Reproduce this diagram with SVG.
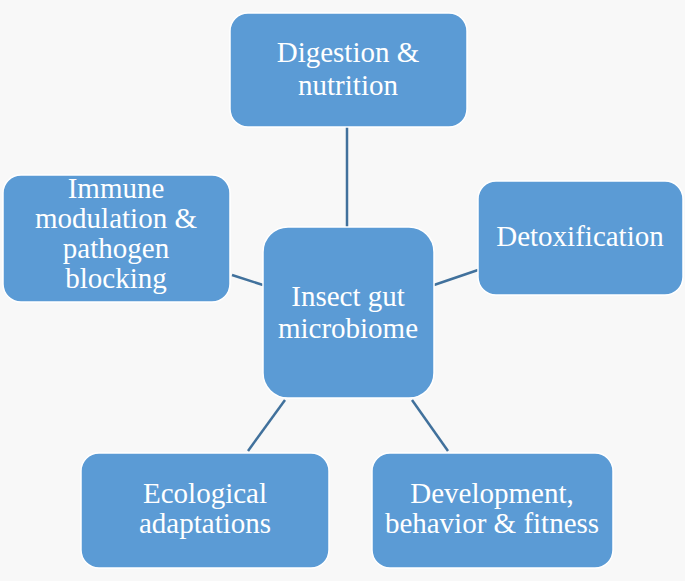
<svg xmlns="http://www.w3.org/2000/svg" width="685" height="581" viewBox="0 0 685 581">
<style>
.box{fill:#5b9bd5;stroke:#ffffff;stroke-width:1.5}
.t{font-family:'Liberation Serif','DejaVu Serif',serif;font-size:29px;fill:#ffffff;text-anchor:middle}
.c{stroke:#41719c;stroke-width:2.5;fill:none}
</style>
<rect x="0" y="0" width="685" height="581" fill="#f8f8f8"/>
<g id="connectors">
<line class="c" x1="347" y1="127" x2="347" y2="227"/>
<line class="c" x1="232" y1="275" x2="263" y2="285"/>
<line class="c" x1="434" y1="285" x2="478" y2="270"/>
<line class="c" x1="285" y1="400" x2="248" y2="451"/>
<line class="c" x1="412" y1="400" x2="448" y2="451"/>
</g>
<g id="digestion">
<rect class="box" x="230" y="13" width="237" height="114" rx="18"/>
<text class="t" x="348" y="62" font-family="Liberation Serif">Digestion &amp;</text>
<text class="t" x="348" y="95">nutrition</text>
</g>
<g id="immune">
<rect class="box" x="3" y="175" width="227" height="127" rx="18"/>
<text class="t" x="116" y="198">Immune</text>
<text class="t" x="116" y="228">modulation &amp;</text>
<text class="t" x="116" y="258">pathogen</text>
<text class="t" x="116" y="288">blocking</text>
</g>
<g id="center">
<rect class="box" x="263" y="227" width="171" height="171" rx="25"/>
<text class="t" x="348" y="306">Insect gut</text>
<text class="t" x="348" y="338">microbiome</text>
</g>
<g id="detox">
<rect class="box" x="478" y="181" width="205" height="114" rx="18"/>
<text class="t" x="580" y="246">Detoxification</text>
</g>
<g id="ecological">
<rect class="box" x="81" y="453" width="248" height="115" rx="18"/>
<text class="t" x="205" y="503">Ecological</text>
<text class="t" x="205" y="533">adaptations</text>
</g>
<g id="development">
<rect class="box" x="372" y="453" width="241" height="115" rx="18"/>
<text class="t" x="492" y="503">Development,</text>
<text class="t" x="492" y="533">behavior &amp; fitness</text>
</g>
</svg>
